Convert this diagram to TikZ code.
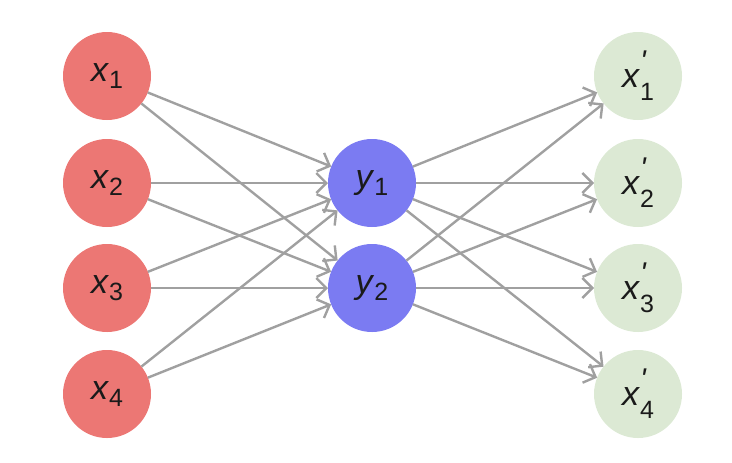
\documentclass[tikz,border=0pt]{standalone}
\usepackage{fontspec}
\newfontfamily\hv{Liberation Sans}
\usetikzlibrary{arrows.meta}
\definecolor{inred}{HTML}{EC7774}
\definecolor{hidblue}{HTML}{7B7BF2}
\definecolor{outgreen}{HTML}{DCE9D4}
\definecolor{edgegray}{HTML}{A0A0A0}
\definecolor{txt}{HTML}{1A1A1A}
\newcommand{\lab}[2]{{\hv\fontsize{17}{20}\selectfont\textit{#1}\raisebox{-0.4ex}{\fontsize{12.5}{14}\selectfont #2}}}
\newcommand{\labp}[2]{{\hv\fontsize{17}{20}\selectfont\textit{#1}\makebox[0pt][l]{\raisebox{0.85ex}{\fontsize{15}{16}\selectfont\textit{'}}}\raisebox{-0.75ex}{\fontsize{12.5}{14}\selectfont #2}}}
\tikzset{
  neuron/.style={circle, minimum size=44pt, inner sep=0pt, outer sep=0pt, text=txt},
  innode/.style={neuron, fill=inred},
  hidnode/.style={neuron, fill=hidblue},
  outnode/.style={neuron, fill=outgreen},
  edge/.style={draw=edgegray, line width=1.2pt, -{Straight Barb[length=5pt,width=10pt,line width=1.2pt]}}
}
\begin{document}
\begin{tikzpicture}[x=0.5pt,y=-0.5pt]
\useasboundingbox (0,0) rectangle (732,462);
\node[innode] (x1) at (107,76) {\lab{x}{1}};
\node[innode] (x2) at (107,183) {\lab{x}{2}};
\node[innode] (x3) at (107,288) {\lab{x}{3}};
\node[innode] (x4) at (107,394) {\lab{x}{4}};
\node[hidnode] (y1) at (372,183) {\lab{y}{1}};
\node[hidnode] (y2) at (372,288) {\lab{y}{2}};
\node[outnode] (o1) at (638,76) {\labp{x}{1}};
\node[outnode] (o2) at (638,183) {\labp{x}{2}};
\node[outnode] (o3) at (638,288) {\labp{x}{3}};
\node[outnode] (o4) at (638,394) {\labp{x}{4}};
\foreach \i in {x1,x2,x3,x4}{
  \draw[edge] (\i) -- (y1);
  \draw[edge] (\i) -- (y2);
}
\foreach \j in {o1,o2,o3,o4}{
  \draw[edge] (y1) -- (\j);
  \draw[edge] (y2) -- (\j);
}
\end{tikzpicture}
\end{document}
